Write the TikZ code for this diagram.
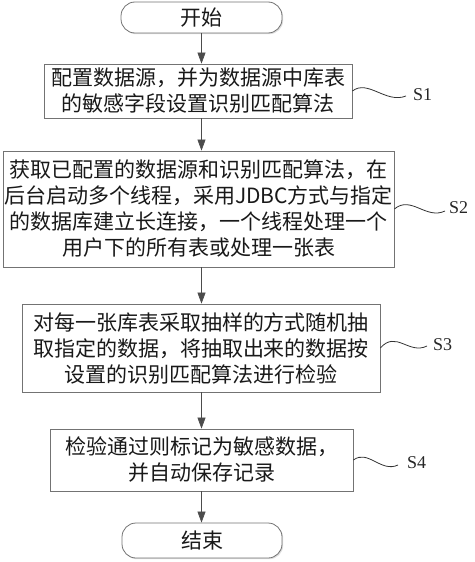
\documentclass[tikz,border=0pt]{standalone}
\usepackage{fontspec}
\newfontfamily\cjk{Noto Sans CJK SC}
\newfontfamily\labfont{Liberation Serif}
\usetikzlibrary{arrows.meta,shadows}
\begin{document}
\begin{tikzpicture}[x=1pt,y=-1pt,
  box/.style={draw=black!55, line width=0.8pt, fill=white, align=center, inner sep=0pt,
    font=\cjk\fontsize{21}{26}\selectfont, text=black!90,
    drop shadow={opacity=0.25, shadow xshift=1.2pt, shadow yshift=-1.2pt}},
  term/.style={box, rounded corners=14pt},
  arr/.style={draw=black!70, line width=0.6pt, -{Triangle[length=11pt,width=8pt]}},
  wave/.style={draw=black!80, line width=0.8pt},
  steplabel/.style={font=\labfont\fontsize{18}{20}\selectfont, inner sep=0pt, anchor=west, text=black!85}]
\useasboundingbox (0,0) rectangle (474,562);
\node[term, minimum width=161pt, minimum height=31pt] (start) at (201.5,17.5) {开始};
\node[box, minimum width=308pt, minimum height=54pt] (s1) at (198,91) {配置数据源，并为数据源中库表\\的敏感字段设置识别匹配算法};
\node[box, minimum width=391pt, minimum height=116pt] (s2) at (198.5,209) {获取已配置的数据源和识别匹配算法，在\\后台启动多个线程，采用JDBC方式与指定\\的数据库建立长连接，一个线程处理一个\\用户下的所有表或处理一张表};
\node[box, minimum width=358pt, minimum height=88pt] (s3) at (201,348) {对每一张库表采取抽样的方式随机抽\\取指定的数据，将抽取出来的数据按\\设置的识别匹配算法进行检验};
\node[box, minimum width=303pt, minimum height=62pt] (s4) at (201.5,460) {检验通过则标记为敏感数据，\\并自动保存记录};
\node[term, minimum width=160pt, minimum height=35pt] (end) at (202,540.5) {结束};

\draw[arr] (start.south) -- (start.south |- s1.north);
\draw[arr] (s1.south -| start.south) -- (start.south |- s2.north);
\draw[arr] (s2.south -| start.south) -- (start.south |- s3.north);
\draw[arr] (s3.south -| start.south) -- (start.south |- s4.north);
\draw[arr] (s4.south -| start.south) -- (start.south |- end.north);

\coordinate (w1) at (406,96);
\coordinate (w2) at (445,211);
\coordinate (w3) at (427,346);
\coordinate (w4) at (398,465);
\draw[wave] (s1.east) .. controls (368,79) and (386,104) .. (w1);
\draw[wave] (s2.east) .. controls (411,195) and (426,220) .. (w2);
\draw[wave] (s3.east) .. controls (396,330) and (409,355) .. (w3);
\draw[wave] (s4.east) .. controls (368,449) and (381,473) .. (w4);
\node[steplabel] (l1) at (413,95) {S1};
\node[steplabel] (l2) at (449,208) {S2};
\node[steplabel] (l3) at (433,345) {S3};
\node[steplabel] (l4) at (407,463) {S4};
\end{tikzpicture}
\end{document}
